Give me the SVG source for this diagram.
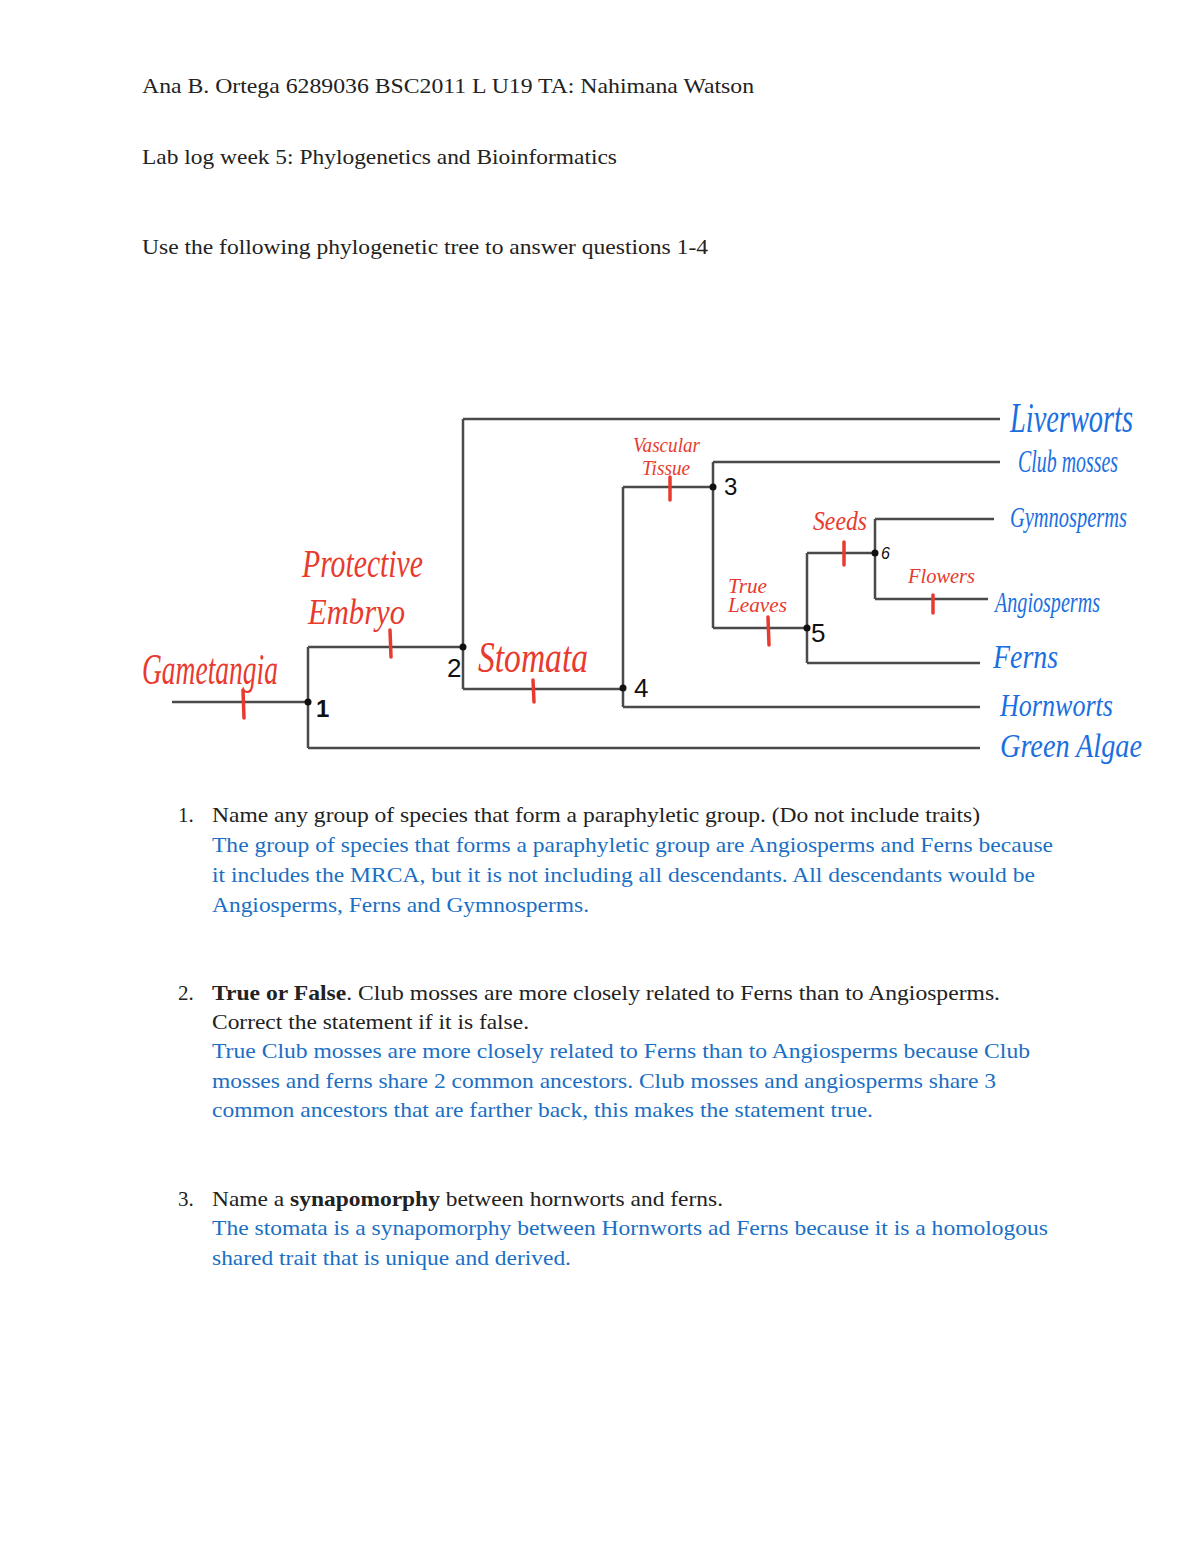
<svg xmlns="http://www.w3.org/2000/svg" width="1200" height="1553" viewBox="0 0 1200 1553">
<style>
.doc{font-family:"Liberation Serif","Times New Roman",serif;font-size:21px;fill:#222}
.ans{font-family:"Liberation Serif","Times New Roman",serif;font-size:21px;fill:#1a6fc4}
.b{font-weight:bold}
.br{fill:none;stroke:#4a4a4a;stroke-width:2.5}
.tick{stroke:#e83a2e;stroke-width:3.5;stroke-linecap:round}
.red{font-family:"Liberation Serif",serif;font-style:italic;fill:#e83a2e}
.blue{font-family:"Liberation Serif",serif;font-style:italic;fill:#1a6fe0}
.num{font-family:"Liberation Sans",Arial,sans-serif;fill:#111}
.dot{fill:#111}
</style>
<rect width="1200" height="1553" fill="#fff"/>

<g id="header">
<text class="doc" x="142" y="93" textLength="612" lengthAdjust="spacingAndGlyphs">Ana B. Ortega 6289036 BSC2011 L U19 TA: Nahimana Watson</text>
<text class="doc" x="142" y="164" textLength="475" lengthAdjust="spacingAndGlyphs">Lab log week 5: Phylogenetics and Bioinformatics</text>
<text class="doc" x="142" y="254" textLength="566" lengthAdjust="spacingAndGlyphs">Use the following phylogenetic tree to answer questions 1-4</text>
</g>

<g id="connectors">
<path class="br" d="M172,702 H308 M308,647 V748 M308,647 H463 M308,748 H980"/>
<path class="br" d="M463,419 V689 M463,419 H1000 M463,689 H623"/>
<path class="br" d="M623,487 V707 M623,707 H980 M623,487 H713"/>
<path class="br" d="M713,462 V628 M713,462 H1000 M713,628 H807"/>
<path class="br" d="M807,553 V663 M807,663 H980 M807,553 H875"/>
<path class="br" d="M875,519 V599 M875,519 H994 M875,599 H988"/>
</g>

<g id="node1"><circle class="dot" cx="308" cy="702" r="3.5"/><text class="num" x="316" y="717" font-size="24" font-weight="bold">1</text></g>
<g id="node2"><circle class="dot" cx="463" cy="647" r="3.5"/><text class="num" x="447" y="677" font-size="26">2</text></g>
<g id="node3"><circle class="dot" cx="713" cy="487" r="3.5"/><text class="num" x="724" y="495" font-size="24">3</text></g>
<g id="node4"><circle class="dot" cx="623" cy="688" r="3.5"/><text class="num" x="634" y="697" font-size="26">4</text></g>
<g id="node5"><circle class="dot" cx="807" cy="628" r="3.5"/><text class="num" x="811" y="642" font-size="26">5</text></g>
<g id="node6"><circle class="dot" cx="875" cy="553" r="3.5"/><text class="num" x="881" y="559" font-size="16" font-style="italic">6</text></g>

<g id="trait-gametangia"><text class="red" x="142" y="684" font-size="44" textLength="136" lengthAdjust="spacingAndGlyphs">Gametangia</text><line class="tick" x1="243" y1="690" x2="244" y2="718"/></g>
<g id="trait-embryo"><text class="red" x="302" y="577" font-size="40" textLength="121" lengthAdjust="spacingAndGlyphs">Protective</text><text class="red" x="308" y="624" font-size="36" textLength="97" lengthAdjust="spacingAndGlyphs">Embryo</text><line class="tick" x1="390" y1="630" x2="391" y2="657"/></g>
<g id="trait-stomata"><text class="red" x="478" y="672" font-size="44" textLength="110" lengthAdjust="spacingAndGlyphs">Stomata</text><line class="tick" x1="533" y1="680" x2="534" y2="702"/></g>
<g id="trait-vascular"><text class="red" x="633" y="452" font-size="20" textLength="67" lengthAdjust="spacingAndGlyphs">Vascular</text><text class="red" x="642" y="475" font-size="20" textLength="48" lengthAdjust="spacingAndGlyphs">Tissue</text><line class="tick" x1="670" y1="477" x2="670" y2="500"/></g>
<g id="trait-seeds"><text class="red" x="813" y="530" font-size="28" textLength="54" lengthAdjust="spacingAndGlyphs">Seeds</text><line class="tick" x1="844" y1="542" x2="844" y2="565"/></g>
<g id="trait-leaves"><text class="red" x="728" y="593" font-size="20" textLength="39" lengthAdjust="spacingAndGlyphs">True</text><text class="red" x="728" y="612" font-size="20" textLength="59" lengthAdjust="spacingAndGlyphs">Leaves</text><line class="tick" x1="768" y1="617" x2="769" y2="645"/></g>
<g id="trait-flowers"><text class="red" x="908" y="583" font-size="20" textLength="67" lengthAdjust="spacingAndGlyphs">Flowers</text><line class="tick" x1="933" y1="595" x2="933" y2="613"/></g>

<g id="taxon-liverworts"><text class="blue" x="1010" y="432" font-size="42" textLength="123" lengthAdjust="spacingAndGlyphs">Liverworts</text></g>
<g id="taxon-clubmosses"><text class="blue" x="1018" y="472" font-size="32" textLength="100" lengthAdjust="spacingAndGlyphs">Club mosses</text></g>
<g id="taxon-gymnosperms"><text class="blue" x="1010" y="527" font-size="30" textLength="117" lengthAdjust="spacingAndGlyphs">Gymnosperms</text></g>
<g id="taxon-angiosperms"><text class="blue" x="995" y="612" font-size="30" textLength="105" lengthAdjust="spacingAndGlyphs">Angiosperms</text></g>
<g id="taxon-ferns"><text class="blue" x="993" y="668" font-size="34" textLength="65" lengthAdjust="spacingAndGlyphs">Ferns</text></g>
<g id="taxon-hornworts"><text class="blue" x="1000" y="716" font-size="31" textLength="113" lengthAdjust="spacingAndGlyphs">Hornworts</text></g>
<g id="taxon-greenalgae"><text class="blue" x="1000" y="757" font-size="33" textLength="142" lengthAdjust="spacingAndGlyphs">Green Algae</text></g>

<g id="question1">
<text class="doc" x="178" y="822">1.</text>
<text class="doc" x="212" y="822" textLength="768" lengthAdjust="spacingAndGlyphs">Name any group of species that form a paraphyletic group. (Do not include traits)</text>
<text class="ans" x="212" y="852" textLength="841" lengthAdjust="spacingAndGlyphs">The group of species that forms a paraphyletic group are Angiosperms and Ferns because</text>
<text class="ans" x="212" y="882" textLength="823" lengthAdjust="spacingAndGlyphs">it includes the MRCA, but it is not including all descendants. All descendants would be</text>
<text class="ans" x="212" y="912" textLength="377" lengthAdjust="spacingAndGlyphs">Angiosperms, Ferns and Gymnosperms.</text>
</g>

<g id="question2">
<text class="doc" x="178" y="1000">2.</text>
<text class="doc" x="212" y="1000" textLength="788" lengthAdjust="spacingAndGlyphs"><tspan class="b">True or False</tspan>. Club mosses are more closely related to Ferns than to Angiosperms.</text>
<text class="doc" x="212" y="1029" textLength="317" lengthAdjust="spacingAndGlyphs">Correct the statement if it is false.</text>
<text class="ans" x="212" y="1058" textLength="818" lengthAdjust="spacingAndGlyphs">True Club mosses are more closely related to Ferns than to Angiosperms because Club</text>
<text class="ans" x="212" y="1088" textLength="784" lengthAdjust="spacingAndGlyphs">mosses and ferns share 2 common ancestors. Club mosses and angiosperms share 3</text>
<text class="ans" x="212" y="1117" textLength="661" lengthAdjust="spacingAndGlyphs">common ancestors that are farther back, this makes the statement true.</text>
</g>

<g id="question3">
<text class="doc" x="178" y="1206">3.</text>
<text class="doc" x="212" y="1206" textLength="511" lengthAdjust="spacingAndGlyphs">Name a <tspan class="b">synapomorphy</tspan> between hornworts and ferns.</text>
<text class="ans" x="212" y="1235" textLength="836" lengthAdjust="spacingAndGlyphs">The stomata is a synapomorphy between Hornworts ad Ferns because it is a homologous</text>
<text class="ans" x="212" y="1265" textLength="359" lengthAdjust="spacingAndGlyphs">shared trait that is unique and derived.</text>
</g>
</svg>
